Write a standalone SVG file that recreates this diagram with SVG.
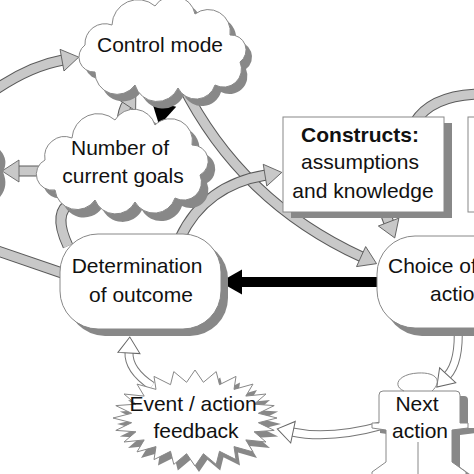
<svg xmlns="http://www.w3.org/2000/svg" width="474" height="474" viewBox="0 0 474 474">
<style>
.t{font-family:"Liberation Sans",Arial,sans-serif;font-size:21px;fill:#111;text-anchor:middle}
.b{font-weight:bold}
.s{text-anchor:start}
.sh{fill:#888}
.nd{fill:#fff;stroke:#888;stroke-width:1}
.bo{fill:none;stroke:#5a5a5a;stroke-width:11}
.bi{fill:none;stroke:#c8c8c8;stroke-width:9}
.ho{fill:none;stroke:#777;stroke-width:9}
.hi{fill:none;stroke:#fff;stroke-width:7}
.bk{fill:none;stroke:#000;stroke-width:10}
</style>
<defs>
<marker id="gh" markerUnits="userSpaceOnUse" orient="auto" overflow="visible" refX="0" refY="0" markerWidth="30" markerHeight="30">
<path d="M-1,-11 L16,0 L-1,11 Z" fill="#c8c8c8" stroke="#555" stroke-width="0.8"/>
</marker>
<marker id="hh" markerUnits="userSpaceOnUse" orient="auto" overflow="visible" refX="0" refY="0" markerWidth="30" markerHeight="30">
<path d="M-1,-11 L15,0 L-1,11 Z" fill="#fff" stroke="#666" stroke-width="1"/>
</marker>
<marker id="kh" markerUnits="userSpaceOnUse" orient="auto" overflow="visible" refX="0" refY="0" markerWidth="40" markerHeight="40">
<path d="M0,-12.5 L22,0 L0,12.5 Z" fill="#000"/>
</marker>
<path id="c1" d="M95,72 A15,15 0 0 1 85,45 A20,20 0 0 1 112,25 A26,26 0 0 1 155,6 A22,22 0 0 1 195,14 A22,22 0 0 1 230,35 A15,15 0 0 1 240,62 A18,18 0 0 1 215,85 A20,20 0 0 1 178,88 A23,23 0 0 1 135,85 A22,22 0 0 1 95,72 Z"/>
<path id="c2" d="M55,190 A16,16 0 0 1 45,160 A20,20 0 0 1 72,138 A26,26 0 0 1 115,120 A22,22 0 0 1 155,125 A22,22 0 0 1 192,145 A16,16 0 0 1 200,175 A18,18 0 0 1 175,198 A22,22 0 0 1 135,202 A22,22 0 0 1 95,200 A22,22 0 0 1 55,190 Z"/>
<polygon id="sb" points="277,418 258.4,422.7 274.2,430.4 254.1,431.8 266,442 245.8,439.9 253,451.9 234,446.6 236,459.6 219.5,451.3 216.2,464.4 203.4,453.7 195,466 186.6,453.7 173.8,464.4 170.5,451.3 154,459.6 156,446.6 137,451.9 144.2,439.9 124,442 135.9,431.8 115.8,430.4 131.6,422.7 113,418 131.6,413.3 115.8,405.6 135.9,404.2 124,394 144.2,396.1 137,384.1 156,389.4 154,376.4 170.5,384.7 173.8,371.6 186.6,382.3 195,370 203.4,382.3 216.2,371.6 219.5,384.7 236,376.4 234,389.4 253,384.1 245.8,396.1 266,394 254.1,404.2 274.2,405.6 258.4,413.3"/>
<path id="na" d="M383,391 L456,391 Q460,391 460,395 L460,423 L468,423 L468,428 L452,430 L452,462 L466,472 L466,476 L372,476 L372,472 L386,462 L386,430 L372,428 L372,423 L379,423 L379,395 Q379,391 383,391 Z"/>
</defs>
<rect width="474" height="474" fill="#fff"/>
<g id="connectors">
<path class="bo" d="M-5,90 Q30,66 63,60"/><path class="bi" d="M-5,90 Q30,66 63,60" marker-end="url(#gh)"/>
<path class="bo" d="M182,84 C215,150 270,215 362,257"/><path class="bi" d="M182,84 C215,150 270,215 362,257" marker-end="url(#gh)"/>
<path class="bk" d="M168,86 L164,104" style="stroke-width:9" marker-end="url(#kh)"/>
<path class="bo" d="M122,122 Q123,110 127,104"/><path class="bi" d="M122,122 Q123,110 127,104" marker-end="url(#gh)"/>
<path class="bo" d="M46,171 L18,171"/><path class="bi" d="M46,171 L18,171" marker-end="url(#gh)"/>
<path class="bo" d="M68,246 Q52,212 72,202"/><path class="bi" d="M68,246 Q52,212 72,202" marker-end="url(#gh)"/>
<path class="bo" d="M-5,250 Q30,262 62,273"/><path class="bi" d="M-5,250 Q30,262 62,273"/>
<path class="bo" d="M180,238 Q205,185 266,175"/><path class="bi" d="M180,238 Q205,185 266,175" marker-end="url(#gh)"/>
<path class="bo" d="M384,210 L389,223"/><path class="bi" d="M384,210 L389,223" marker-end="url(#gh)"/>
<path class="bo" d="M415,122 Q432,95 480,94"/><path class="bi" d="M415,122 Q432,95 480,94"/>
<path class="bk" d="M380,282 L242,282" marker-end="url(#kh)"/>
<path class="ho" d="M152,386 Q128,370 129,352"/><path class="hi" d="M152,386 Q128,370 129,352" marker-end="url(#hh)"/>
<path class="ho" d="M458,326 Q460,362 447,376"/><path class="hi" d="M458,326 Q460,362 447,376" marker-end="url(#hh)"/>
<path class="ho" d="M384,425 Q330,440 292,432"/><path class="hi" d="M384,425 Q330,440 292,432" marker-end="url(#hh)"/>
</g>
<g id="left-edge"><path class="sh" d="M0,150 Q9,160 3,172 Q9,186 0,197 Z"/></g>
<g id="control-mode">
<use href="#c1" class="sh" transform="translate(6,7)"/>
<use href="#c1" class="nd"/>
<text class="t" x="160" y="52">Control mode</text>
</g>
<g id="current-goals">
<use href="#c2" class="sh" transform="translate(7,8)"/>
<use href="#c2" class="nd"/>
<text class="t" x="120" y="155">Number of</text>
<text class="t" x="123" y="183">current goals</text>
</g>
<g id="constructs">
<rect class="sh" x="291" y="123" width="161" height="95"/>
<rect class="nd" x="283" y="117" width="161" height="95"/>
<text class="t b" x="360" y="142">Constructs:</text>
<text class="t" x="360" y="169">assumptions</text>
<text class="t" x="363" y="198">and knowledge</text>
</g>
<g id="right-box">
<rect class="nd" x="468" y="117" width="40" height="95"/>
</g>
<g id="determination">
<rect class="sh" x="67" y="241" width="161" height="95" rx="38"/>
<rect class="nd" x="60" y="234" width="161" height="95" rx="38"/>
<text class="t" x="137" y="273">Determination</text>
<text class="t" x="141" y="302">of outcome</text>
</g>
<g id="choice">
<rect class="sh" x="384" y="244" width="160" height="92" rx="38"/>
<rect class="nd" x="377" y="236" width="160" height="92" rx="38"/>
<text class="t s" x="388" y="273">Choice of</text>
<text class="t s" x="430" y="301">action</text>
</g>
<g id="event-feedback">
<use href="#sb" class="sh" transform="translate(4,6)"/>
<use href="#sb" class="nd"/>
<text class="t" x="193" y="411">Event / action</text>
<text class="t" x="196" y="438">feedback</text>
</g>
<g id="next-action">
<use href="#na" class="sh" transform="translate(8,5)"/>
<use href="#na" class="nd"/>
<path d="M418,442 L418,476" stroke="#888" fill="none"/>
<path d="M404,391 C392,386 398,374 418,373 C438,372 442,382 432,391" stroke="#888" fill="none"/>
<text class="t" x="417" y="411">Next</text>
<text class="t" x="420" y="438">action</text>
</g>
</svg>
